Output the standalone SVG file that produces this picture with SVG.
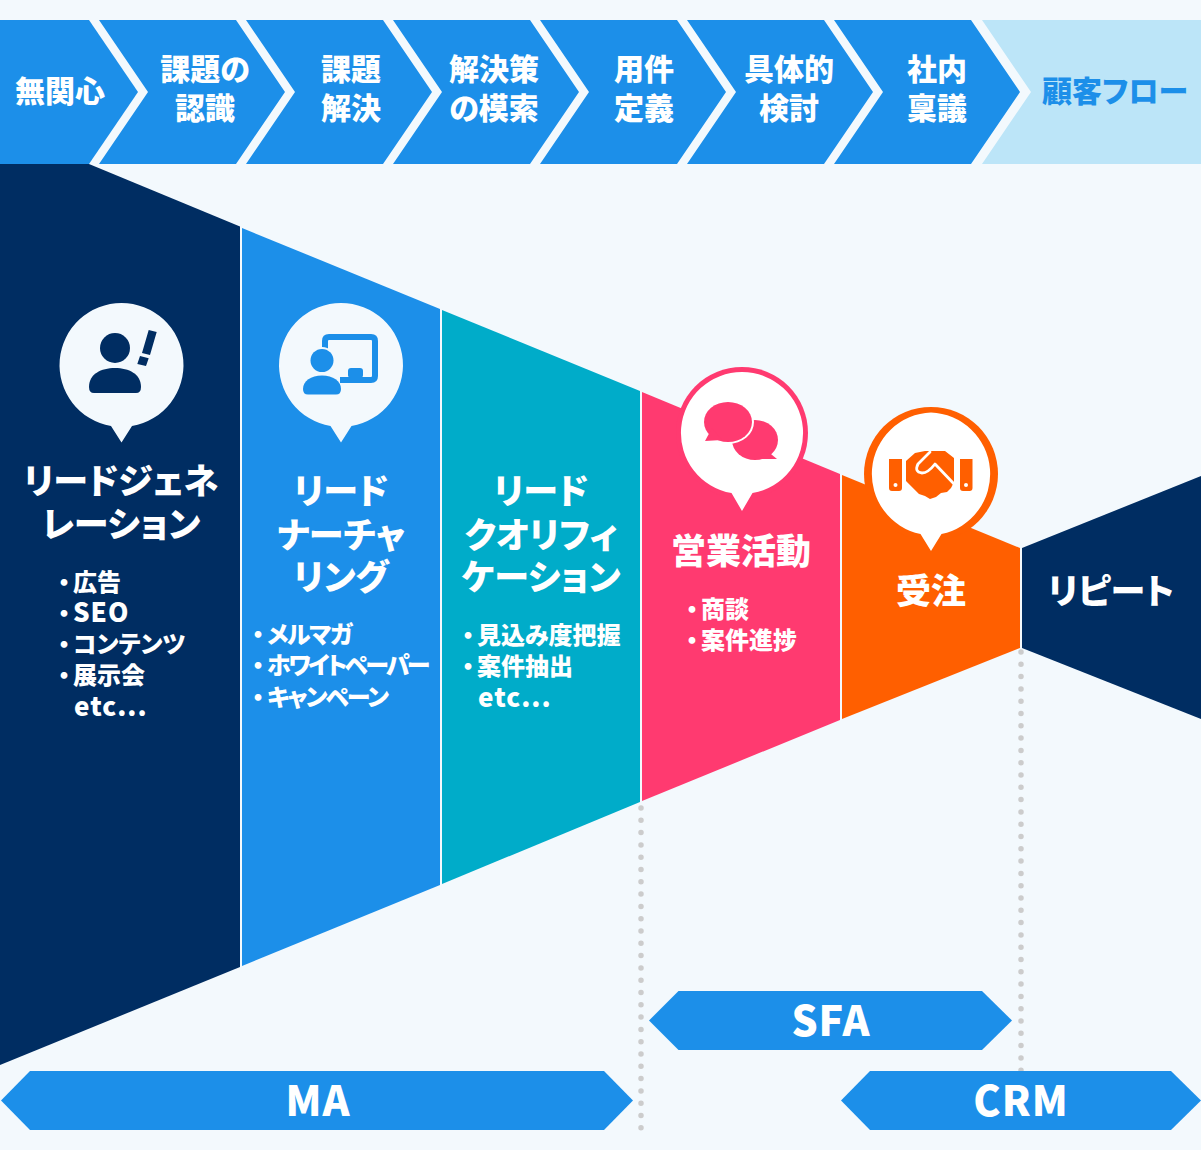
<svg xmlns="http://www.w3.org/2000/svg" width="1201" height="1150" viewBox="0 0 1201 1150">
<style>
text{font-family:"Noto Sans CJK JP","Noto Sans",sans-serif;font-weight:900;text-anchor:middle;fill:#fff;font-feature-settings:"palt"}
.s{font-size:30px}
.l{font-size:35px}
.i{font-size:24px;text-anchor:start}
.e{font-size:26px;font-weight:900;letter-spacing:1px;font-feature-settings:normal}
.b{font-size:41px;font-weight:900;letter-spacing:1px;font-feature-settings:normal}
.c{fill:#1c8fe9}
.w{fill:#f3f9fd}
.dot{fill:none;stroke:#ccc;stroke-width:5.5;stroke-linecap:round;stroke-dasharray:0 12.3}
</style>
<defs>
<path id="chev" d="M0 20H137L186 92L137 164H0L49 92Z"/>
</defs>
<rect width="1201" height="1150" class="w"/>
<g id="flow">
<g id="step1"><path class="c" d="M0 20H89L138 92L89 164H0Z"/><text class="s" x="60" y="102">無関心</text></g>
<g id="step2"><use href="#chev" x="99" class="c"/><text class="s" x="205" y="80">課題の</text><text class="s" x="205" y="119">認識</text></g>
<g id="step3"><use href="#chev" x="246" class="c"/><text class="s" x="351" y="80">課題</text><text class="s" x="351" y="119">解決</text></g>
<g id="step4"><use href="#chev" x="393" class="c"/><text class="s" x="494" y="80">解決策</text><text class="s" x="494" y="119">の模索</text></g>
<g id="step5"><use href="#chev" x="540" class="c"/><text class="s" x="644" y="80">用件</text><text class="s" x="644" y="119">定義</text></g>
<g id="step6"><use href="#chev" x="687" class="c"/><text class="s" x="789" y="80">具体的</text><text class="s" x="789" y="119">検討</text></g>
<g id="step7"><use href="#chev" x="834" class="c"/><text class="s" x="937" y="80">社内</text><text class="s" x="937" y="119">稟議</text></g>
<g id="step8"><path fill="#bce5f8" d="M982 20H1201V164H982L1031 92Z"/><text class="s" x="1115" y="102" style="fill:#1c8fe9">顧客フロー</text></g>
</g>
<g id="connectors">
<path class="dot" d="M641 808V1128"/>
<path class="dot" d="M1021 652V1076"/>
</g>
<g id="leadgen">
<path fill="#002d62" d="M0 164H89L240 226.500V967L0 1065Z"/>
<path class="w" d="M121.500 303a62 62 0 0 1 10.500 123.100L121.500 442.500L111 426.100A62 62 0 0 1 121.500 303Z"/>
<circle cx="115" cy="348" r="15" fill="#002d62"/>
<path fill="#002d62" d="M89 387C89 374 101 368 115 368S141 374 141 387Q141 393 136 393H94Q89 393 89 387Z"/>
<path fill="#002d62" d="M148.700 330L156.700 332L150 355L142 353ZM140 356L148.700 358.300L146 366L137.300 364Z"/>
<text class="l" x="121" y="494">リードジェネ</text><text class="l" x="121" y="537">レーション</text>
<text class="i" x="58" y="591">・<tspan dx="3">広告</tspan></text><text class="i" x="58" y="622">・<tspan dx="3" class="e">SEO</tspan></text><text class="i" x="58" y="653">・<tspan dx="3">コンテンツ</tspan></text><text class="i" x="58" y="684">・<tspan dx="3">展示会</tspan></text><text class="i e" x="74" y="716">etc...</text>
</g>
<g id="nurture">
<path class="c" d="M242 228L440 309V885L242 966Z"/>
<path class="w" d="M341 303a62 62 0 0 1 10.500 123.100L341 442.500L330.500 426.100A62 62 0 0 1 341 303Z"/>
<path fill="none" stroke="#1c8fe9" stroke-width="6" stroke-linejoin="round" d="M325 349V341Q325 337 329 337H371Q375 337 375 341V376Q375 380 371 380H340"/>
<rect x="348" y="368" width="15" height="10" rx="3" class="c"/>
<circle cx="322" cy="360.500" r="13.500" class="w"/>
<circle cx="322" cy="360.500" r="11.500" class="c"/>
<path class="c" d="M303 389C303 381 311 375.500 322 375.500S341 381 341 389Q341 394.500 336 394.500H308Q303 394.500 303 389Z"/>
<text class="l" x="341" y="504">リード</text><text class="l" x="341" y="548">ナーチャ</text><text class="l" x="341" y="590">リング</text>
<text class="i" x="252" y="643">・<tspan dx="3" letter-spacing="-1.250">メルマガ</tspan></text><text class="i" x="252" y="674">・<tspan dx="3" letter-spacing="-2.600">ホワイトペーパー</tspan></text><text class="i" x="252" y="706">・<tspan dx="3" letter-spacing="-2">キャンペーン</tspan></text>
</g>
<g id="qualify">
<path fill="#00acc9" d="M442 310L640 391V802L442 884Z"/>
<text class="l" x="541" y="504">リード</text><text class="l" x="541" y="548">クオリフィ</text><text class="l" x="541" y="590">ケーション</text>
<text class="i" x="462" y="644">・<tspan dx="3">見込み度把握</tspan></text><text class="i" x="462" y="675">・<tspan dx="3">案件抽出</tspan></text><text class="i e" x="478" y="707">etc...</text>
</g>
<g id="sales">
<path fill="#ff3a70" d="M642 392L840 474V720L642 801Z"/>
<circle cx="742" cy="433" r="66" fill="#ff3a70"/>
<path fill="#fff" d="M742 372a61 61 0 0 1 10.500 121.100L742 511L731.500 493.100A61 61 0 0 1 742 372Z"/>
<ellipse cx="755" cy="440" rx="23" ry="20" fill="#ff3a70"/>
<path fill="#ff3a70" d="M766 450L777 459L760 459Z"/>
<ellipse cx="728" cy="422" rx="26" ry="22" fill="#fff"/>
<ellipse cx="728" cy="422" rx="24" ry="20" fill="#ff3a70"/>
<path fill="#ff3a70" d="M712 428L705 441L722 440Z"/>
<text class="l" x="741" y="564">営業活動</text>
<text class="i" x="686" y="618">・<tspan dx="3">商談</tspan></text><text class="i" x="686" y="649">・<tspan dx="3">案件進捗</tspan></text>
</g>
<g id="order">
<path fill="#ff5f00" d="M842 475L1020 548V648L842 719Z"/>
<circle cx="931" cy="474" r="67" fill="#ff5f00"/>
<path fill="#fff" d="M931 412.500a61.500 61.500 0 0 1 10.500 121.600L931 551L920.500 534.100A61.500 61.500 0 0 1 931 412.500Z"/>
<path fill="#ff5f00" d="M889 459H902V488Q902 491 899 491H892Q889 491 889 488ZM960 459H972.500V488Q972.500 491 969.500 491H963Q960 491 960 488Z"/>
<path fill="#ff5f00" d="M906 461L915 453L925 451H945L954 458V482L951 488L947 492L941 493L936 497L930 499L925 496L919 494L906 481Z"/>
<path fill="none" stroke="#fff" stroke-width="2.800" stroke-linecap="round" stroke-linejoin="round" d="M930 452L918 464Q914 472 922 473Q928 473 935 464L955 485"/>
<circle cx="895.500" cy="485" r="2" fill="#fff"/><circle cx="966" cy="485" r="2" fill="#fff"/>
<text class="l" x="931" y="604">受注</text>
</g>
<g id="repeat">
<path fill="#002d62" d="M1022 548L1201 476V719L1022 648Z"/>
<text class="l" x="1111" y="604">リピート</text>
</g>
<g id="sfa"><path class="c" d="M649 1020.500L678.500 991H982L1012 1020.500L982 1050H678.500Z"/><text class="b" x="831" y="1036">SFA</text></g>
<g id="ma"><path class="c" d="M1 1100.500L30 1071H604L633 1100.500L604 1130H30Z"/><text class="b" x="318" y="1116">MA</text></g>
<g id="crm"><path class="c" d="M841 1100.500L870 1071H1171L1201 1100.500L1171 1130H870Z"/><text class="b" x="1021" y="1116">CRM</text></g>
</svg>
